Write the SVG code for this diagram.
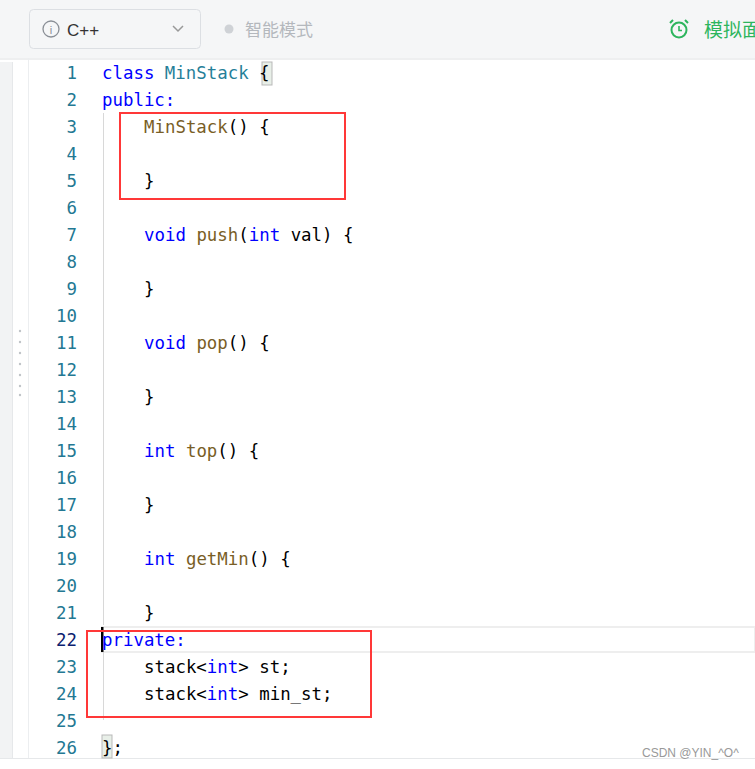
<svg xmlns="http://www.w3.org/2000/svg" width="755" height="769" viewBox="0 0 755 769">
<style>
.c{font-family:"DejaVu Sans Mono","Liberation Mono",monospace;font-size:17.4px;fill:#000}
.n{font-family:"DejaVu Sans Mono","Liberation Mono",monospace;font-size:17.4px;fill:#237893;text-anchor:end}
.k{fill:#0000ff}.t{fill:#267f99}.f{fill:#795e26}
.box{fill:none;stroke:#ff3838;stroke-width:2}
</style>
<rect width="755" height="769" fill="#fff"/>
<rect width="755" height="58" fill="#f5f6f7"/>
<rect x="0" y="58" width="755" height="2" fill="#eeeff0"/>
<g id="toolbar">
<rect x="29.5" y="9.5" width="171" height="39" rx="4" fill="#f5f6f7" stroke="#dcdfe3"/>
<circle cx="51" cy="29" r="8" fill="none" stroke="#8a8f96" stroke-width="1.3"/>
<text x="51" y="34" font-family="Liberation Sans,sans-serif" font-size="11" fill="#8a8f96" text-anchor="middle">i</text>
<text x="67" y="36" font-family="Liberation Sans,sans-serif" font-size="17" fill="#333">C++</text>
<path d="M173 26l5 5 5-5" fill="none" stroke="#999" stroke-width="1.5"/>
<circle cx="229" cy="29" r="4.5" fill="#cfd2d6"/>
<text x="245" y="36" font-family="Noto Sans CJK SC,sans-serif" font-size="17" fill="#b4b8bd">智能模式</text>
<circle cx="679" cy="30" r="7.5" fill="none" stroke="#2db55d" stroke-width="2"/>
<path d="M679 26v4.5h3" fill="none" stroke="#2db55d" stroke-width="1.6"/>
<path d="M670 23l3-3M688 23l-3-3" stroke="#2db55d" stroke-width="2"/>
<text x="704" y="37" font-family="Noto Sans CJK SC,sans-serif" font-size="19" fill="#2db55d">模拟面</text>
</g>
<g id="sidepanel">
<rect x="0" y="62" width="12" height="696" fill="#f2f3f4"/>
<rect x="12" y="62" width="1" height="696" fill="#e6e8ea"/>
<rect x="28" y="58" width="1" height="700" fill="#eceef0"/>
<g fill="#c0c4c8"><circle cx="20" cy="331" r="1.2"/><circle cx="20" cy="342" r="1.2"/><circle cx="20" cy="353" r="1.2"/><circle cx="20" cy="364" r="1.2"/><circle cx="20" cy="375" r="1.2"/><circle cx="20" cy="386" r="1.2"/><circle cx="20" cy="395" r="1.2"/></g>
<rect x="0" y="758" width="755" height="1" fill="#e6e8ea"/>
</g>
<g id="editor">
<rect x="102" y="627" width="653" height="25" fill="none" stroke="#eeeeee" stroke-width="2"/>
<g stroke="#d8d8d8" stroke-width="1"><line x1="103.5" y1="113" x2="103.5" y2="625"/><line x1="103.5" y1="652" x2="103.5" y2="720"/></g>
<rect x="101" y="627" width="2.5" height="25" fill="#000"/>
<rect x="262" y="62" width="10" height="23" fill="#e8efe8" stroke="#b9b9b9"/>
<rect x="102" y="735" width="10" height="23" fill="#e8efe8" stroke="#b9b9b9"/>
<g class="n">
<text x="77" y="79">1</text><text x="77" y="106">2</text><text x="77" y="133">3</text><text x="77" y="160">4</text><text x="77" y="187">5</text><text x="77" y="214">6</text><text x="77" y="241">7</text><text x="77" y="268">8</text><text x="77" y="295">9</text><text x="77" y="322">10</text><text x="77" y="349">11</text><text x="77" y="376">12</text><text x="77" y="403">13</text><text x="77" y="430">14</text><text x="77" y="457">15</text><text x="77" y="484">16</text><text x="77" y="511">17</text><text x="77" y="538">18</text><text x="77" y="565">19</text><text x="77" y="592">20</text><text x="77" y="619">21</text><text x="77" y="646" fill="#0b216f">22</text><text x="77" y="673">23</text><text x="77" y="700">24</text><text x="77" y="727">25</text><text x="77" y="754">26</text>
</g>
<g class="c" xml:space="preserve">
<text x="102" y="79"><tspan class="k">class</tspan> <tspan class="t">MinStack</tspan> {</text>
<text x="102" y="106" class="k">public:</text>
<text x="144" y="133"><tspan class="f">MinStack</tspan>() {</text>
<text x="144" y="187">}</text>
<text x="144" y="241"><tspan class="k">void</tspan> <tspan class="f">push</tspan>(<tspan class="k">int</tspan> val) {</text>
<text x="144" y="295">}</text>
<text x="144" y="349"><tspan class="k">void</tspan> <tspan class="f">pop</tspan>() {</text>
<text x="144" y="403">}</text>
<text x="144" y="457"><tspan class="k">int</tspan> <tspan class="f">top</tspan>() {</text>
<text x="144" y="511">}</text>
<text x="144" y="565"><tspan class="k">int</tspan> <tspan class="f">getMin</tspan>() {</text>
<text x="144" y="619">}</text>
<text x="102" y="646" class="k">private:</text>
<text x="144" y="673">stack&lt;<tspan class="k">int</tspan>&gt; st;</text>
<text x="144" y="700">stack&lt;<tspan class="k">int</tspan>&gt; min_st;</text>
<text x="102" y="754">};</text>
</g>
</g>
<g id="highlights">
<rect class="box" x="120" y="113" width="225" height="86"/>
<rect class="box" x="87" y="631" width="284" height="86"/>
</g>
<text x="642" y="757" font-family="Liberation Sans,sans-serif" font-size="12" fill="#999">CSDN @YIN_^O^</text>
</svg>
